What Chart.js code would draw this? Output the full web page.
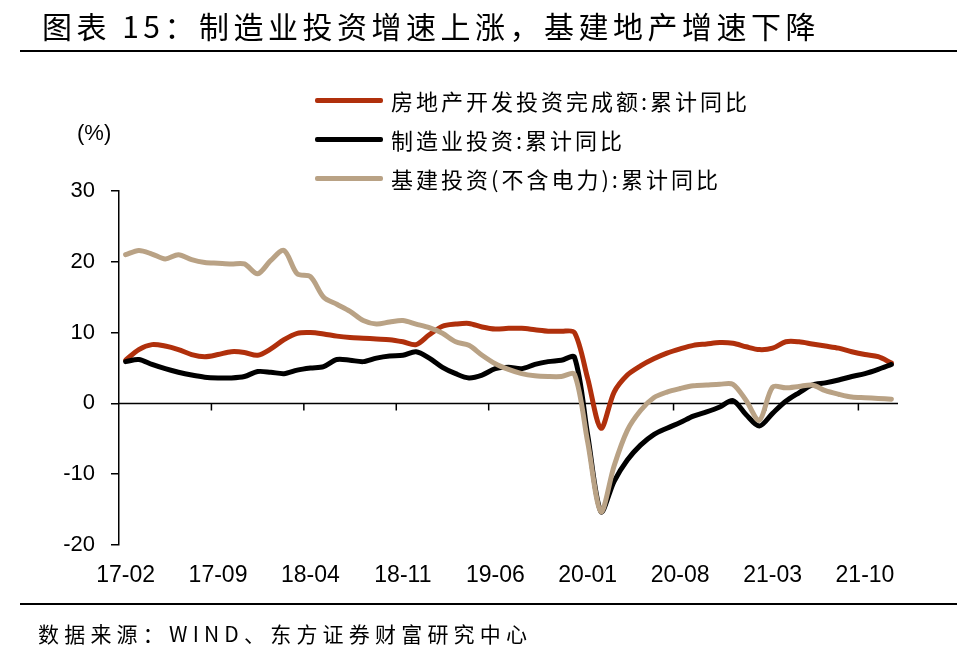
<!DOCTYPE html>
<html><head><meta charset="utf-8">
<script src="https://cdn.jsdelivr.net/npm/chart.js@4/dist/chart.umd.min.js"></script>
<style>
html,body{margin:0;padding:0;background:#fff;}
#wrap{position:relative;width:977px;height:651px;overflow:hidden;background:#fff;}
canvas{position:absolute;left:0;top:0;}
.t{position:absolute;white-space:nowrap;color:#000;}
#title{left:42px;top:6px;font-size:30px;font-family:"Noto Sans CJK SC";letter-spacing:4.5px;line-height:38px;}
.rule{position:absolute;left:20px;width:937px;height:2px;background:#000;}
#src{left:38px;top:618px;font-size:21px;font-family:"Noto Sans CJK SC";letter-spacing:5.2px;line-height:30px;}
#unit{left:77px;top:119px;font-size:22px;font-family:"Liberation Sans";line-height:28px;}
.lg{position:absolute;left:315px;width:68px;height:5px;border-radius:2px;}
.lt{left:391px;font-size:22px;font-family:"Noto Sans CJK SC";letter-spacing:3px;line-height:28px;}
</style></head>
<body>
<div id="wrap">
<canvas id="c" width="977" height="651"></canvas>
<div id="title" class="t">图表 15：制造业投资增速上涨，基建地产增速下降</div>
<div class="rule" style="top:50px"></div>
<div id="unit" class="t">(%)</div>
<div id="legend"></div>
<div class="rule" style="top:603px"></div>
<div id="src" class="t">数据来源：WIND、东方证券财富研究中心</div>
</div>
<script>
const categories = ['17-02','17-03','17-04','17-05','17-06','17-07','17-08','17-09','17-10','17-11','17-12',
  '18-01','18-02','18-03','18-04','18-05','18-06','18-07','18-08','18-09','18-10','18-11','18-12',
  '19-01','19-02','19-03','19-04','19-05','19-06','19-07','19-08','19-09','19-10','19-11','19-12',
  '20-01','20-02','20-03','20-04','20-05','20-06','20-07','20-08','20-09','20-10','20-11','20-12',
  '21-01','21-02','21-03','21-04','21-05','21-06','21-07','21-08','21-09','21-10','21-11','21-12'];
const tickLabels = ['17-02','17-09','18-04','18-11','19-06','20-01','20-08','21-03','21-10'];
const seriesNames = ['房地产开发投资完成额:累计同比','制造业投资:累计同比','基建投资(不含电力):累计同比'];
const seriesColors = ['#B0300C','#000000','#B9A285'];
const realEstate = [6.1,7.6,8.3,8.1,7.6,6.9,6.6,6.9,7.3,7.2,6.8,
  7.7,9.0,9.9,10.0,9.8,9.5,9.3,9.2,9.1,9.0,8.7,8.3,
  9.7,10.9,11.2,11.3,10.8,10.5,10.6,10.6,10.4,10.2,10.2,10.0,
  3.5,-3.5,1.6,4.0,5.3,6.3,7.1,7.7,8.2,8.4,8.6,8.5,
  8.0,7.6,7.8,8.7,8.7,8.4,8.1,7.8,7.3,6.9,6.6,5.7];
const manufacturing = [5.9,6.2,5.5,4.9,4.4,4.0,3.7,3.6,3.6,3.8,4.5,
  4.4,4.2,4.7,5.0,5.2,6.2,6.1,5.9,6.4,6.7,6.8,7.3,
  6.4,5.1,4.2,3.6,4.0,4.9,5.1,4.9,5.5,5.9,6.1,6.5,
  -4.5,-15.3,-11.0,-8.0,-5.9,-4.4,-3.5,-2.7,-1.8,-1.2,-0.5,0.4,
  -1.6,-3.2,-1.4,0.3,1.5,2.6,2.9,3.3,3.8,4.2,4.8,5.5];
const infrastructure = [21.0,21.6,21.1,20.4,21.0,20.3,19.9,19.8,19.7,19.7,18.3,
  20.2,21.6,18.3,17.9,15.0,14.0,13.0,11.7,11.2,11.5,11.7,11.2,
  10.7,9.9,8.7,8.2,6.8,5.6,4.8,4.2,3.9,3.8,3.8,4.1,
  -5.5,-15.3,-8.8,-3.8,-1.0,0.8,1.6,2.1,2.5,2.6,2.7,2.7,
  0.4,-2.4,2.3,2.2,2.4,2.6,1.8,1.3,0.9,0.8,0.7,0.6];
const yMin = -20, yMax = 30, yStep = 10;

// HTML legend
const lg = document.getElementById('legend');
const rowY = [100, 139, 178];
seriesNames.forEach((n, i) => {
  const l = document.createElement('div');
  l.className = 'lg'; l.style.top = (rowY[i] - 2.5) + 'px'; l.style.background = seriesColors[i];
  lg.appendChild(l);
  const t = document.createElement('div');
  t.className = 't lt'; t.style.top = (rowY[i] - 14) + 'px'; t.textContent = n;
  lg.appendChild(t);
});

const zeroAxis = {
  id: 'zeroAxis',
  beforeDatasetsDraw(chart) {
    const {ctx, chartArea: a, scales: {x, y}} = chart;
    const y0 = y.getPixelForValue(0);
    ctx.save();
    ctx.strokeStyle = '#000'; ctx.lineWidth = 1.5;
    ctx.beginPath();
    ctx.moveTo(a.left, y0); ctx.lineTo(a.right, y0);
    categories.forEach((c, i) => {
      if (i > 0 && tickLabels.includes(c)) {
        const px = (x.getPixelForValue(i - 1) + x.getPixelForValue(i)) / 2;
        ctx.moveTo(px, y0); ctx.lineTo(px, y0 + 7);
      }
    });
    ctx.stroke();
    ctx.restore();
  }
};

const mk = (label, data, color, order) => ({
  label, data, borderColor: color, backgroundColor: color, borderWidth: 5,
  pointRadius: 0, tension: 0.3, fill: false, order, borderCapStyle: 'round', borderJoinStyle: 'round'
});

new Chart(document.getElementById('c'), {
  type: 'line',
  data: {
    labels: categories,
    datasets: [
      mk(seriesNames[0], realEstate, seriesColors[0], 2),
      mk(seriesNames[1], manufacturing, seriesColors[1], 1),
      mk(seriesNames[2], infrastructure, seriesColors[2], 0)
    ]
  },
  options: {
    responsive: false, animation: false, devicePixelRatio: 1,
    layout: {padding: {top: 191, right: 79, bottom: 56, left: 0}},
    plugins: {legend: {display: false}, tooltip: {enabled: false}},
    scales: {
      x: {
        type: 'category', offset: true,
        grid: {display: false, drawTicks: false},
        border: {display: false},
        ticks: {
          autoSkip: false, maxRotation: 0, padding: 17, color: '#000',
          font: {family: 'Liberation Sans', size: 23},
          callback: function(v, i) { const c = categories[i]; return tickLabels.includes(c) ? c : ''; }
        },
        afterFit(s) { s.height = 50; }
      },
      y: {
        min: yMin, max: yMax,
        ticks: {stepSize: yStep, padding: 16, color: '#000', font: {family: 'Liberation Sans', size: 22}},
        grid: {drawOnChartArea: false, drawTicks: true, tickLength: 8, color: '#000', lineWidth: 1.5},
        border: {display: true, color: '#000', width: 1.5},
        afterFit(s) { s.width = 119; }
      }
    }
  },
  plugins: [zeroAxis]
});
</script>
</body></html>
